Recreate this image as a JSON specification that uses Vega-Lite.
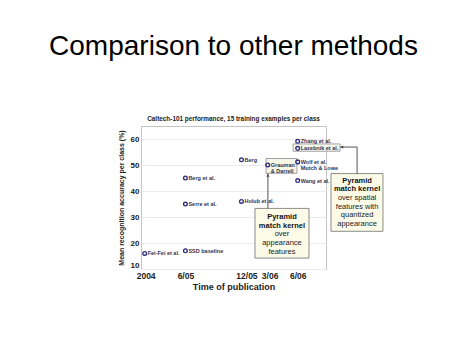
{
  "$schema": "https://vega.github.io/schema/vega-lite/v6.json",
  "width": 185,
  "height": 143,
  "autosize": "none",
  "padding": {"left": 141, "top": 126, "right": 148, "bottom": 86},
  "background": "white",
  "title": {
    "text": "Comparison to other methods",
    "subtitle": "Caltech-101 performance, 15 training examples per class",
    "anchor": "middle",
    "frame": "group",
    "font": "Liberation Sans",
    "fontSize": 28,
    "fontWeight": "normal",
    "color": "#000000",
    "subtitleFont": "Liberation Sans",
    "subtitleFontSize": 6.4,
    "subtitleFontWeight": "bold",
    "subtitleColor": "#222222",
    "subtitlePadding": 55,
    "offset": 4
  },
  "config": {
    "font": "Liberation Sans",
    "view": {"stroke": "#c4c4c4"},
    "axis": {
      "labelFont": "Liberation Sans",
      "titleFont": "Liberation Sans",
      "labelFontWeight": "bold",
      "titleFontWeight": "bold",
      "labelColor": "#222222",
      "titleColor": "#222222",
      "domain": false,
      "ticks": false
    }
  },
  "datasets": {
    "methods": [
      {"method": "Fei-Fei et al.", "pos": 2, "acc": 16},
      {"method": "SSD baseline", "pos": 24, "acc": 17},
      {"method": "Serre et al.", "pos": 24, "acc": 35},
      {"method": "Berg et al.", "pos": 24, "acc": 45},
      {"method": "Berg", "pos": 54.3, "acc": 52},
      {"method": "Holub et al.", "pos": 54.3, "acc": 36},
      {"method": "Grauman\n& Darrell", "pos": 68.5, "acc": 50},
      {"method": "Wolf et al.\nMutch & Lowe", "pos": 84.7, "acc": 51.2},
      {"method": "Zhang et al.", "pos": 84.7, "acc": 59.1},
      {"method": "Lazebnik et al.", "pos": 84.7, "acc": 56.4},
      {"method": "Wang et al.", "pos": 84.7, "acc": 44}
    ],
    "labelBoxes": [
      {"name": "Grauman & Darrell", "pos": 67.6, "pos2": 84.3, "acc": 52.5, "acc2": 46.8},
      {"name": "Lazebnik et al.", "pos": 82.2, "pos2": 107.6, "acc": 58.1, "acc2": 55.3}
    ],
    "noteBoxes": [
      {"note": "appearance", "pos": 61.6, "pos2": 90.8, "acc": 33.3, "acc2": 14.2},
      {"note": "spatial", "pos": 102.7, "pos2": 130.8, "acc": 46.7, "acc2": 24.5}
    ],
    "connectors": [
      {"note": "appearance", "pos": 68.6, "pos2": 68.6, "acc": 33.3, "acc2": 46.8},
      {"note": "spatial", "pos": 116.8, "pos2": 116.8, "acc": 46.7, "acc2": 56.9},
      {"note": "spatial", "pos": 116.8, "pos2": 107.6, "acc": 56.9, "acc2": 56.9}
    ],
    "arrowheads": [
      {"note": "appearance", "pos": 68.6, "acc": 46.0, "direction": "up"},
      {"note": "spatial", "pos": 108.6, "acc": 56.9, "direction": "left"}
    ],
    "noteText": [
      {"note": "appearance", "part": "heading", "pos": 76.2, "acc": 30.0, "text": "Pyramid\nmatch kernel"},
      {"note": "appearance", "part": "body", "pos": 76.2, "acc": 23.3, "text": "over\nappearance\nfeatures"},
      {"note": "spatial", "part": "heading", "pos": 116.8, "acc": 44.0, "text": "Pyramid\nmatch kernel"},
      {"note": "spatial", "part": "body", "pos": 116.8, "acc": 37.3, "text": "over spatial\nfeatures with\nquantized\nappearance"}
    ]
  },
  "encoding": {
    "x": {
      "field": "pos",
      "type": "quantitative",
      "title": "Time of publication",
      "scale": {"domain": [0, 100], "nice": false, "zero": false},
      "axis": {
        "values": [2.5, 24, 57, 69.5, 84.7],
        "labelExpr": "datum.value < 10 ? '2004' : datum.value < 30 ? '6/05' : datum.value < 60 ? '12/05' : datum.value < 75 ? '3/06' : '6/06'",
        "labelFontSize": 8.5,
        "labelPadding": 2,
        "labelFlush": false,
        "grid": false,
        "titleFontSize": 9,
        "titlePadding": 3
      }
    },
    "y": {
      "field": "acc",
      "type": "quantitative",
      "title": "Mean recognition accuracy per class (%)",
      "scale": {"domain": [10, 65], "nice": false, "zero": false},
      "axis": {
        "values": [10, 20, 30, 40, 50, 60],
        "labelFontSize": 8,
        "labelPadding": 2,
        "labelFlush": true,
        "labelFlushOffset": 0,
        "grid": true,
        "gridColor": "#ebebeb",
        "titleFontSize": 7,
        "titlePadding": 6
      }
    }
  },
  "layer": [
    {
      "data": {"name": "labelBoxes"},
      "mark": {"type": "rect", "fill": "#f7f7e6", "stroke": "#8a8a9a", "strokeWidth": 0.8},
      "encoding": {"x2": {"field": "pos2"}, "y2": {"field": "acc2"}}
    },
    {
      "data": {"name": "noteBoxes"},
      "mark": {"type": "rect", "fill": "#fbfbe8", "stroke": "#6f6f6f", "strokeWidth": 0.8},
      "encoding": {"x2": {"field": "pos2"}, "y2": {"field": "acc2"}}
    },
    {
      "data": {"name": "connectors"},
      "mark": {"type": "rule", "color": "#555555", "strokeWidth": 1},
      "encoding": {"x2": {"field": "pos2"}, "y2": {"field": "acc2"}}
    },
    {
      "data": {"name": "arrowheads"},
      "mark": {"type": "point", "filled": true, "color": "#444444", "size": 10, "opacity": 1},
      "encoding": {
        "shape": {"field": "direction", "type": "nominal", "scale": {"domain": ["up", "left"], "range": ["triangle-up", "triangle-left"]}, "legend": null}
      }
    },
    {
      "data": {"name": "methods"},
      "mark": {"type": "point", "shape": "circle", "filled": false, "color": "#2b2b80", "strokeWidth": 1.3, "size": 14, "opacity": 1}
    },
    {
      "data": {"name": "methods"},
      "mark": {"type": "text", "align": "left", "baseline": "middle", "dx": 3, "font": "Liberation Sans", "fontSize": 5.5, "fontWeight": "bold", "color": "#333350", "lineBreak": "\n", "lineHeight": 5.8},
      "encoding": {"text": {"field": "method"}}
    },
    {
      "data": {"name": "noteText"},
      "transform": [{"filter": "datum.part === 'heading'"}],
      "mark": {"type": "text", "align": "center", "baseline": "middle", "font": "Liberation Sans", "fontSize": 7.5, "fontWeight": "bold", "color": "#111111", "lineBreak": "\n", "lineHeight": 8.7},
      "encoding": {"text": {"field": "text"}}
    },
    {
      "data": {"name": "noteText"},
      "transform": [{"filter": "datum.part === 'body'"}],
      "mark": {"type": "text", "align": "center", "baseline": "middle", "font": "Liberation Sans", "fontSize": 7.5, "fontWeight": "normal", "color": "#222222", "lineBreak": "\n", "lineHeight": 8.7},
      "encoding": {"text": {"field": "text"}}
    }
  ]
}
